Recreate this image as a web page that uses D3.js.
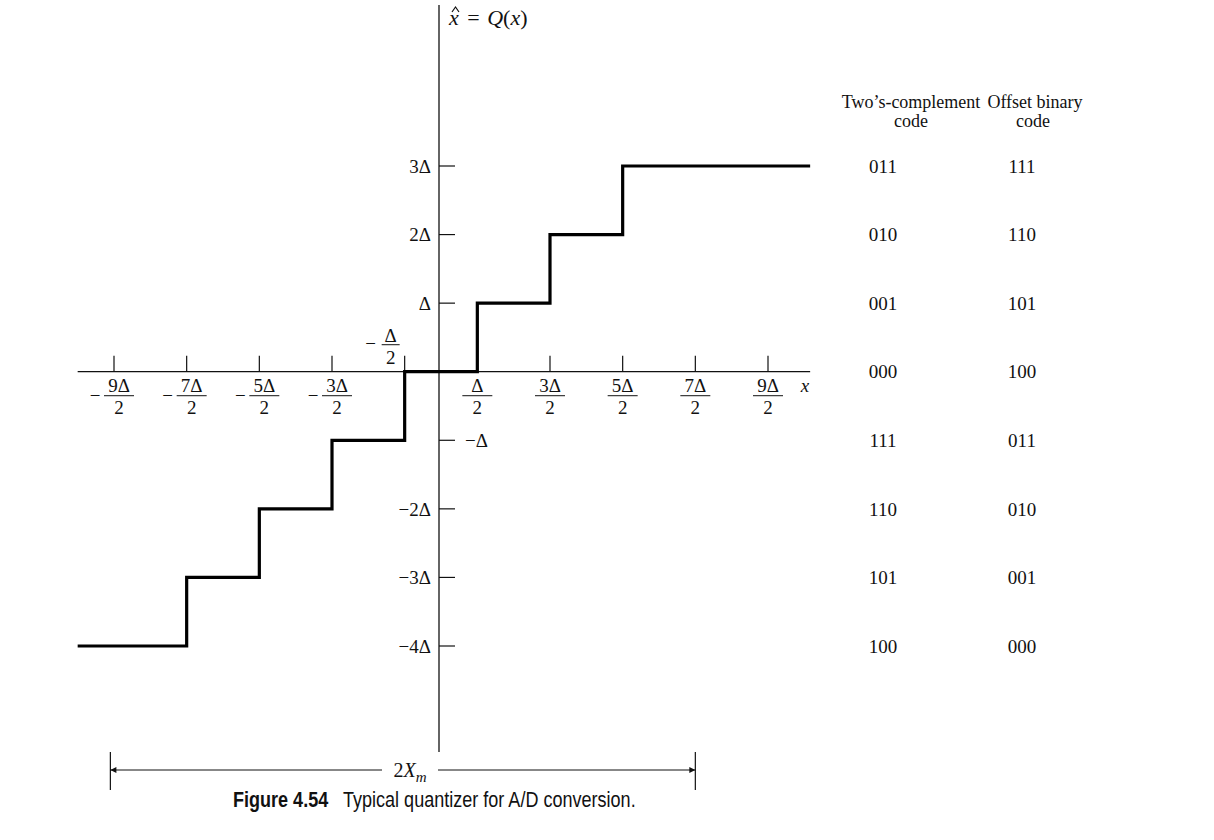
<!DOCTYPE html>
<html>
<head>
<meta charset="utf-8">
<script src="https://cdn.jsdelivr.net/npm/d3@7"></script>
<style>
  body { margin: 0; background: #fff; }
  text { font-family: "Liberation Serif", "Times New Roman", serif; fill: #111; }
  .cap { font-family: "Liberation Sans Narrow", "Liberation Sans", sans-serif; }
</style>
</head>
<body>
<svg id="canvas" width="1214" height="840"></svg>
<script>
// Quantizer levels (in units of delta)
let levels = [-4, -3, -2, -1, 0, 1, 2, 3];
let levelLabels = ['−4Δ', '−3Δ', '−2Δ', '−Δ', '', 'Δ', '2Δ', '3Δ'];

// Decision thresholds (in units of delta), x tick labels
let xTicks = [-4.5, -3.5, -2.5, -1.5, -0.5, 0.5, 1.5, 2.5, 3.5, 4.5];
let xNumerators = ['9Δ', '7Δ', '5Δ', '3Δ', 'Δ', 'Δ', '3Δ', '5Δ', '7Δ', '9Δ'];

// Staircase corner points: input x -> output level
let stepX = [-5, -3.5, -2.5, -1.5, -0.5, 0.5, 1.5, 2.5, 5.08];
let stepY = [-4, -3, -2, -1, 0, 1, 2, 3, 3];

// Binary codes for each level (same order as levels)
let twosComplement = ['100', '101', '110', '111', '000', '001', '010', '011'];
let offsetBinary = ['000', '001', '010', '011', '100', '101', '110', '111'];

// 2Xm range
let rangeX = [-4.55, 3.5];

let canvas = d3.select('#canvas');

let x = d3.scaleLinear().domain([-4.5, 4.5]).range([114, 768]);
let y = d3.scaleLinear().domain([-4, 3]).range([646, 166]);

let x0 = x(0) - 2;   // y axis position
let y0 = y(0);
let fs = 19;

// Axes lines
canvas.append('line')
    .attr('x1', x(-5)).attr('x2', x(5.08))
    .attr('y1', y0).attr('y2', y0)
    .attr('stroke', '#111').attr('stroke-width', 1.3);
canvas.append('line')
    .attr('x1', x0).attr('x2', x0)
    .attr('y1', 5).attr('y2', 752)
    .attr('stroke', '#111').attr('stroke-width', 1.3);

// Y ticks and labels
levels.forEach((v, i) => {
    if (v === 0) return;
    canvas.append('line')
        .attr('x1', x0).attr('x2', x0 + 16)
        .attr('y1', y(v)).attr('y2', y(v))
        .attr('stroke', '#111').attr('stroke-width', 1.2);
    let right = v === -1;
    canvas.append('text')
        .attr('x', right ? x0 + 26 : x0 - 8)
        .attr('y', y(v))
        .attr('dy', '0.35em')
        .attr('text-anchor', right ? 'start' : 'end')
        .attr('font-size', fs)
        .text(levelLabels[i]);
});

// X ticks and fraction labels
xTicks.forEach((t, i) => {
    canvas.append('line')
        .attr('x1', x(t)).attr('x2', x(t))
        .attr('y1', y0).attr('y2', y0 - 16)
        .attr('stroke', '#111').attr('stroke-width', 1.2);

    if (t === -0.5) {
        // label above the axis
        let cx = x(t) - 14;
        let g = canvas.append('g');
        g.append('text').attr('x', cx).attr('y', y0 - 30).attr('text-anchor', 'middle')
            .attr('font-size', fs).text('Δ');
        g.append('line').attr('x1', cx - 9).attr('x2', cx + 9)
            .attr('y1', y0 - 27).attr('y2', y0 - 27).attr('stroke', '#111').attr('stroke-width', 1);
        g.append('text').attr('x', cx).attr('y', y0 - 8).attr('text-anchor', 'middle')
            .attr('font-size', fs).text('2');
        g.append('text').attr('x', cx - 20).attr('y', y0 - 22).attr('text-anchor', 'middle')
            .attr('font-size', fs).text('−');
        return;
    }
    let cx = t < 0 ? x(t) + 5 : x(t);
    let g = canvas.append('g');
    g.append('text').attr('x', cx).attr('y', y0 + 20).attr('text-anchor', 'middle')
        .attr('font-size', fs).text(xNumerators[i]);
    g.append('line').attr('x1', cx - 15).attr('x2', cx + 15)
        .attr('y1', y0 + 24).attr('y2', y0 + 24).attr('stroke', '#111').attr('stroke-width', 1);
    g.append('text').attr('x', cx).attr('y', y0 + 42).attr('text-anchor', 'middle')
        .attr('font-size', fs).text('2');
    if (t < 0) {
        g.append('text').attr('x', cx - 24).attr('y', y0 + 30).attr('text-anchor', 'middle')
            .attr('font-size', fs).text('−');
    }
});

// x axis label
canvas.append('text')
    .attr('x', x(4.95)).attr('y', y0 + 20)
    .attr('font-size', fs).attr('font-style', 'italic')
    .text('x');

// Title
let title = canvas.append('text').attr('x', x0 + 10).attr('y', 25).attr('font-size', 22);
title.append('tspan').attr('font-style', 'italic').text('x');
title.append('tspan').attr('dx', 3).text(' = ');
title.append('tspan').attr('dx', 2).attr('font-style', 'italic').text('Q');
title.append('tspan').text('(');
title.append('tspan').attr('font-style', 'italic').text('x');
title.append('tspan').text(')');
// hat over x
canvas.append('path')
    .attr('d', `M${x0 + 13},${12} L${x0 + 16.5},${7} L${x0 + 20},${12}`)
    .attr('fill', 'none').attr('stroke', '#111').attr('stroke-width', 1.2);

// Staircase
let stairs = stepX.map((v, i) => [v, stepY[i]]);
let line = d3.line()
    .x((d) => x(d[0]))
    .y((d) => y(d[1]))
    .curve(d3.curveStepAfter);
canvas.append('path')
    .attr('d', line(stairs))
    .attr('fill', 'none')
    .attr('stroke', '#000')
    .attr('stroke-width', 3.2);

// Code table
let col1 = 883, col2 = 1022;
canvas.append('text').attr('x', 911).attr('y', 108).attr('text-anchor', 'middle')
    .attr('font-size', 18).text('Two’s-complement');
canvas.append('text').attr('x', 911).attr('y', 127).attr('text-anchor', 'middle')
    .attr('font-size', 18).text('code');
canvas.append('text').attr('x', 1035).attr('y', 108).attr('text-anchor', 'middle')
    .attr('font-size', 18).text('Offset binary');
canvas.append('text').attr('x', 1033).attr('y', 127).attr('text-anchor', 'middle')
    .attr('font-size', 18).text('code');

levels.forEach((v, i) => {
    canvas.append('text').attr('x', col1).attr('y', y(v)).attr('dy', '0.35em')
        .attr('text-anchor', 'middle').attr('font-size', fs).text(twosComplement[i]);
    canvas.append('text').attr('x', col2).attr('y', y(v)).attr('dy', '0.35em')
        .attr('text-anchor', 'middle').attr('font-size', fs).text(offsetBinary[i]);
});

// 2Xm dimension line
let dimY = 770;
let defs = canvas.append('defs');
defs.append('marker')
    .attr('id', 'arrow')
    .attr('viewBox', '0 0 10 10')
    .attr('refX', 10).attr('refY', 5)
    .attr('markerWidth', 12).attr('markerHeight', 6)
    .attr('markerUnits', 'userSpaceOnUse')
    .attr('orient', 'auto')
    .append('path').attr('d', 'M0,0 L10,5 L0,10 Z').attr('fill', '#111');

let lx = x(rangeX[0]), rx = x(rangeX[1]);
[lx, rx].forEach((px) => {
    canvas.append('line').attr('x1', px).attr('x2', px)
        .attr('y1', dimY - 18).attr('y2', dimY + 20)
        .attr('stroke', '#111').attr('stroke-width', 1.2);
});
let mid = 410;
canvas.append('line').attr('x1', mid - 28).attr('x2', lx)
    .attr('y1', dimY).attr('y2', dimY)
    .attr('stroke', '#111').attr('stroke-width', 1).attr('marker-end', 'url(#arrow)');
canvas.append('line').attr('x1', mid + 28).attr('x2', rx)
    .attr('y1', dimY).attr('y2', dimY)
    .attr('stroke', '#111').attr('stroke-width', 1).attr('marker-end', 'url(#arrow)');
let dimLabel = canvas.append('text').attr('x', mid).attr('y', dimY + 7)
    .attr('text-anchor', 'middle').attr('font-size', 20);
dimLabel.append('tspan').text('2');
dimLabel.append('tspan').attr('font-style', 'italic').text('X');
dimLabel.append('tspan').attr('font-style', 'italic').attr('font-size', 15).attr('dy', 5).text('m');

// Caption (condensed look via horizontal scale)
let cap = canvas.append('text').attr('class', 'cap')
    .attr('transform', 'translate(233,807) scale(0.82,1)')
    .attr('font-size', 22);
cap.append('tspan').attr('font-weight', 'bold').text('Figure 4.54');
cap.append('tspan').attr('dx', 18).text('Typical quantizer for A/D conversion.');
</script>
</body>
</html>
